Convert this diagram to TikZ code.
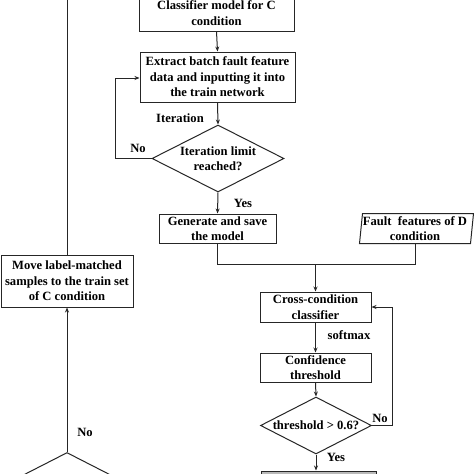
\documentclass[tikz,border=0pt]{standalone}
\usepackage{fontspec}
\setmainfont{Liberation Serif}
\usetikzlibrary{shapes.geometric,arrows.meta,calc}
\begin{document}
\begin{tikzpicture}[x=1pt,y=-1pt,
  line width=1pt, draw=black!85,
  font=\bfseries\fontsize{12.6}{15.5}\selectfont,
  box/.style={draw, rectangle, align=center, inner sep=0pt},
  dec/.style={draw, diamond, aspect=2, align=center, inner sep=0pt},
  arr/.style={-{Stealth[length=5pt,width=4pt]}},
  lbl/.style={inner sep=0pt}]
\clip (0,0) rectangle (474,474);
\fill[white] (0,0) rectangle (474,474);

\node[box, minimum width=155, minimum height=36] (cls) at (216.5,13) {Classifier model for C\\condition};
\node[box, minimum width=155, minimum height=50] (ext) at (217.5,77) {Extract batch fault feature\\data and inputting it into\\the train network};
\node[dec, minimum width=132, minimum height=67] (it) at (218,158.5) {};
\node[align=center] at (218,158.5) {Iteration limit\\reached?};
\node[box, minimum width=117, minimum height=29] (gen) at (217.5,228.5) {Generate and save\\the model};
\node[align=center, minimum width=110, minimum height=29, inner sep=0pt] (fd) at (415,228.5) {Fault\ \ features of D\\condition};
\draw (fd.south west) -- ($(fd.north west)+(3,0)$) -- ($(fd.north east)+(3,0)$) -- (fd.south east) -- cycle;
\node[box, minimum width=111, minimum height=30] (cc) at (315.5,307) {Cross-condition\\classifier};
\node[box, minimum width=111, minimum height=29] (ct) at (315.5,367.5) {Confidence\\threshold};
\node[dec, minimum width=111, minimum height=57] (th) at (316,425.5) {};
\node at (316,425.5) {threshold {>} 0.6?};
\node[box, fill=gray!55, minimum width=115, minimum height=36] (res) at (318.5,489) {};
\node[box, minimum width=132, minimum height=52] (mv) at (67,281) {Move label-matched\\samples to the train set\\of C condition};
\node[dec, minimum width=111, minimum height=57] (d3) at (67,481) {};
\coordinate (top) at (67,-10);

\draw[arr] (cls.south) -- (ext.north);
\draw[arr] (ext.south) -- (it.north);
\node[lbl] at (180,118) {Iteration};
\draw[arr] (it.west) -- (115,158.5) -- (115,78) -- (ext.west |- 0,78);
\node[lbl] at (138,148) {No};
\draw[arr] (it.south) -- (gen.north);
\node[lbl] at (243,203) {Yes};
\draw (gen.south) -- (217.5,264) -- (415,264) -- (fd.south);
\draw[arr] (315.5,264) -- (cc.north);
\draw[arr] (cc.south) -- (ct.north);
\node[lbl] at (349,335) {softmax};
\draw[arr] (ct.south) -- (th.north);
\draw[arr] (th.east) -- (392,425.5) -- (392,307) -- (cc.east);
\node[lbl] at (380,418) {No};
\draw[arr] (th.south) -- (res.north -| th.south);
\node[lbl] at (336,457) {Yes};
\draw[arr] (d3.north) -- (mv.south);
\node[lbl] at (85,432) {No};
\draw (mv.north) -- (top);
\end{tikzpicture}
\end{document}
